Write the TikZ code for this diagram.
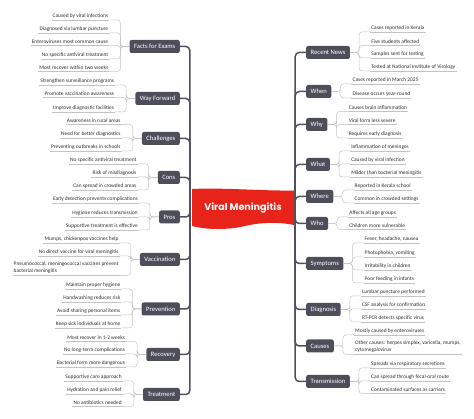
\documentclass[tikz,border=0pt]{standalone}
\usepackage{fontspec}
\setmainfont{Carlito}
\newfontfamily\popfont{Poppins}
\usetikzlibrary{backgrounds}
\definecolor{cred}{HTML}{E8231A}
\definecolor{mgray}{HTML}{4E4E5A}
\definecolor{trunkc}{HTML}{50505A}
\definecolor{linec}{HTML}{C4C4C4}
\definecolor{leafc}{HTML}{2E2E2E}
\tikzset{
  mainbox/.style={fill=mgray, rounded corners=2pt, text=white, font=\fontsize{6.6}{7.5}\selectfont,
    inner xsep=4.5pt, inner ysep=0pt, minimum height=13pt},
  mainL/.style={mainbox, anchor=east},
  mainR/.style={mainbox, anchor=west},
  leafbox/.style={font=\fontsize{5.4}{7}\selectfont, text=leafc, inner xsep=1pt, inner ysep=1.4pt, align=left},
  leafL/.style={leafbox, anchor=east},
  leafR/.style={leafbox, anchor=west},
  leafline/.style={draw=linec, line width=0.5pt},
  brline/.style={draw=linec, line width=0.5pt, rounded corners=3pt},
  trunk/.style={draw=trunkc, line width=1.5pt, rounded corners=4pt},
}
\newcommand\Lmain[3]{%
  \node[mainL] (#1) at (180,#2) {#3};
  \coordinate (#1lf) at ([xshift=-20pt]#1.west);
  \coordinate (#1br) at ([xshift=-9pt]#1.west);
  \draw[trunk] (LT) |- (#1.east);
}
\newcommand\Rmain[3]{%
  \node[mainR] (#1) at (306,#2) {#3};
  \coordinate (#1lf) at ([xshift=20pt]#1.east);
  \coordinate (#1br) at ([xshift=9pt]#1.east);
  \draw[trunk] (RT) |- (#1.west);
}
\newcommand\Lleaf[4]{%
  \node[leafL] (#1) at (#2lf |- 0,#3) {#4};
  \draw[leafline] (#1.south west) -- (#1.south east);
  \draw[brline] (#2.west) -- (#2br) |- (#1.south east);
}
\newcommand\Rleaf[4]{%
  \node[leafR] (#1) at (#2lf |- 0,#3) {#4};
  \draw[leafline] (#1.south west) -- (#1.south east);
  \draw[brline] (#2.east) -- (#2br) |- (#1.south west);
}
\begin{document}
\begin{tikzpicture}[x=1pt, y=-1pt]
\useasboundingbox (0,0) rectangle (474,419);
\node[font=\popfont\bfseries\fontsize{9.6}{11}\selectfont, text=white, minimum width=102pt, minimum height=38pt, inner sep=0pt] (cen) at (243,207.5) {Viral Meningitis};
\begin{pgfonlayer}{background}
\fill[cred] (192,189) .. controls (225,187.5) and (260,191) .. (294,190.5) -- (294,225)
  .. controls (280,222) and (262,222) .. (245,226) .. controls (228,230) and (208,230) .. (192,226) -- cycle;
\end{pgfonlayer}
\coordinate (LT) at ([xshift=-2pt]cen.west);
\coordinate (RT) at ([xshift=1pt]cen.east);

% ---------- left side ----------
\Lmain{fe}{46.5}{Facts for Exams}
\Lleaf{fe1}{fe}{16}{Caused by viral infections}
\Lleaf{fe2}{fe}{29}{Diagnosed via lumbar puncture}
\Lleaf{fe3}{fe}{42}{Enteroviruses most common cause}
\Lleaf{fe4}{fe}{55}{No specific antiviral treatment}
\Lleaf{fe5}{fe}{68}{Most recover within two weeks}

\Lmain{wf}{98.5}{Way Forward}
\Lleaf{wf1}{wf}{81}{Strengthen surveillance programs}
\Lleaf{wf2}{wf}{94}{Promote vaccination awareness}
\Lleaf{wf3}{wf}{108}{Improve diagnostic facilities}

\Lmain{ch}{138.5}{Challenges}
\Lleaf{ch1}{ch}{121}{Awareness in rural areas}
\Lleaf{ch2}{ch}{134}{Need for better diagnostics}
\Lleaf{ch3}{ch}{147}{Preventing outbreaks in schools}

\Lmain{co}{177.5}{Cons}
\Lleaf{co1}{co}{160}{No specific antiviral treatment}
\Lleaf{co2}{co}{173}{Risk of misdiagnosis}
\Lleaf{co3}{co}{186}{Can spread in crowded areas}

\Lmain{pr}{217}{Pros}
\Lleaf{pr1}{pr}{199}{Early detection prevents complications}
\Lleaf{pr2}{pr}{213}{Hygiene reduces transmission}
\Lleaf{pr3}{pr}{226}{Supportive treatment is effective}

\Lmain{va}{259.5}{Vaccination}
\Lleaf{va1}{va}{239}{Mumps, chickenpox vaccines help}
\Lleaf{va2}{va}{252}{No direct vaccine for viral meningitis}
\Lleaf{va3}{va}{268}{Pneumococcal, meningococcal vaccines prevent\\bacterial meningitis}

\Lmain{pv}{309}{Prevention}
\Lleaf{pv1}{pv}{285}{Maintain proper hygiene}
\Lleaf{pv2}{pv}{298}{Handwashing reduces risk}
\Lleaf{pv3}{pv}{311}{Avoid sharing personal items}
\Lleaf{pv4}{pv}{324}{Keep sick individuals at home}

\Lmain{rc}{354.5}{Recovery}
\Lleaf{rc1}{rc}{338}{Most recover in 1-2 weeks}
\Lleaf{rc2}{rc}{350}{No long-term complications}
\Lleaf{rc3}{rc}{363}{Bacterial form more dangerous}

\Lmain{tr}{394.5}{Treatment}
\Lleaf{tr1}{tr}{377}{Supportive care approach}
\Lleaf{tr2}{tr}{390}{Hydration and pain relief}
\Lleaf{tr3}{tr}{403}{No antibiotics needed}

% ---------- right side ----------
\Rmain{rn}{52.5}{Recent News}
\Rleaf{rn1}{rn}{28}{Cases reported in Kerala}
\Rleaf{rn2}{rn}{42}{Five students affected}
\Rleaf{rn3}{rn}{54}{Samples sent for testing}
\Rleaf{rn4}{rn}{67}{Tested at National Institute of Virology}

\Rmain{wn}{91.5}{When}
\Rleaf{wn1}{wn}{80}{Cases reported in March 2025}
\Rleaf{wn2}{wn}{94}{Disease occurs year-round}

\Rmain{wy}{124.5}{Why}
\Rleaf{wy1}{wy}{108}{Causes brain inflammation}
\Rleaf{wy2}{wy}{121}{Viral form less severe}
\Rleaf{wy3}{wy}{134}{Requires early diagnosis}

\Rmain{wt}{164.5}{What}
\Rleaf{wt1}{wt}{147}{Inflammation of meninges}
\Rleaf{wt2}{wt}{160}{Caused by viral infection}
\Rleaf{wt3}{wt}{173}{Milder than bacterial meningitis}

\Rmain{wh}{196.5}{Where}
\Rleaf{wh1}{wh}{186}{Reported in Kerala school}
\Rleaf{wh2}{wh}{199}{Common in crowded settings}

\Rmain{wo}{223.5}{Who}
\Rleaf{wo1}{wo}{213}{Affects all age groups}
\Rleaf{wo2}{wo}{226}{Children more vulnerable}

\Rmain{sy}{263.5}{Symptoms}
\Rleaf{sy1}{sy}{239}{Fever, headache, nausea}
\Rleaf{sy2}{sy}{253}{Photophobia, vomiting}
\Rleaf{sy3}{sy}{266}{Irritability in children}
\Rleaf{sy4}{sy}{279}{Poor feeding in infants}

\Rmain{dg}{309.5}{Diagnosis}
\Rleaf{dg1}{dg}{292}{Lumbar puncture performed}
\Rleaf{dg2}{dg}{305}{CSF analysis for confirmation}
\Rleaf{dg3}{dg}{318}{RT-PCR detects specific virus}

\Rmain{cs}{346}{Causes}
\Rleaf{cs1}{cs}{331}{Mostly caused by enteroviruses}
\Rleaf{cs2}{cs}{347}{Other causes: herpes simplex, varicella, mumps,\\cytomegalovirus}

\Rmain{tm}{381.5}{Transmission}
\Rleaf{tm1}{tm}{364}{Spreads via respiratory secretions}
\Rleaf{tm2}{tm}{377}{Can spread through fecal-oral route}
\Rleaf{tm3}{tm}{390}{Contaminated surfaces as carriers}
\end{tikzpicture}
\end{document}
